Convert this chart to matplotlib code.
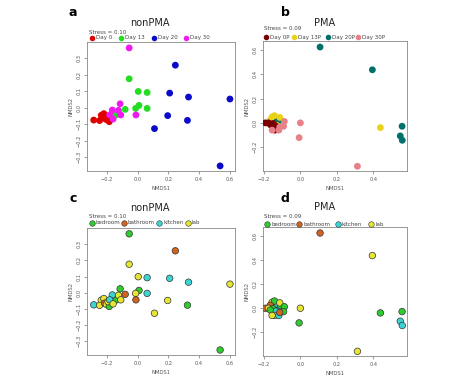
import matplotlib
matplotlib.use("Agg")
import matplotlib.pyplot as plt
from matplotlib.lines import Line2D

# ---------------- data ----------------
# nonPMA samples
np_x = [-0.286, -0.237, -0.220, -0.248, -0.215, -0.204, -0.185, -0.171, -0.193,
        -0.055, 0.004, 0.062, 0.009, -0.013, -0.081, 0.062, -0.143,
        -0.055, -0.114, -0.165, -0.125, -0.110, -0.182, -0.160, -0.011,
        0.246, 0.209, 0.332, 0.602, 0.196, 0.325, 0.110, 0.538]
np_y = [-0.075, -0.046, -0.036, -0.078, -0.065, -0.072, -0.085, -0.044, -0.055,
        0.176, 0.099, 0.093, 0.014, -0.004, -0.010, -0.004, -0.046,
        0.364, 0.024, -0.014, -0.016, -0.044, -0.044, -0.069, -0.044,
        0.259, 0.089, 0.065, 0.053, -0.048, -0.077, -0.127, -0.354]
np_day = ["Day 0"] * 9 + ["Day 13"] * 8 + ["Day 30"] * 8 + ["Day 20"] * 8
np_room = ["kitchen", "lab", "lab", "lab", "bathroom", "lab", "bedroom", "lab", "lab",
           "lab", "lab", "kitchen", "bedroom", "lab", "bathroom", "kitchen", "bedroom",
           "bedroom", "bedroom", "kitchen", "lab", "lab", "kitchen", "lab", "bathroom",
           "bathroom", "kitchen", "kitchen", "lab", "lab", "bedroom", "lab", "bedroom"]

# PMA samples
p_x = [0.108, 0.395, 0.558, 0.548, 0.559, -0.128, -0.110,
       0.439, -0.155, -0.142, -0.113, -0.165, -0.150, -0.130,
       -0.192, -0.175, -0.150, -0.135, -0.140, -0.165,
       0.000, -0.007, 0.313, -0.088, -0.092, -0.155, -0.118, -0.113]
p_y = [0.627, 0.439, -0.028, -0.108, -0.144, 0.022, 0.022,
       -0.039, 0.050, 0.060, 0.045, 0.025, -0.010, -0.020,
       0.000, 0.000, -0.005, -0.025, -0.060, -0.015,
       0.000, -0.122, -0.359, 0.012, -0.028, -0.060, -0.060, -0.035]
p_day = ["Day 20P"] * 7 + ["Day 13P"] * 7 + ["Day 0P"] * 6 + ["Day 30P"] * 8
p_room = ["bathroom", "lab", "bedroom", "kitchen", "kitchen", "kitchen", "bedroom",
          "bedroom", "lab", "bedroom", "lab", "bathroom", "lab", "kitchen",
          "bathroom", "lab", "bedroom", "kitchen", "lab", "bedroom",
          "lab", "bedroom", "lab", "bedroom", "bedroom", "lab", "kitchen", "bathroom"]

days_np = ["Day 0", "Day 13", "Day 20", "Day 30"]
days_p = ["Day 0P", "Day 13P", "Day 20P", "Day 30P"]
rooms = ["bedroom", "bathroom", "kitchen", "lab"]

stress_np = "Stress = 0.10"
stress_p = "Stress = 0.09"

np_xticks = [-0.2, 0.0, 0.2, 0.4, 0.6]
np_yticks = [-0.3, -0.2, -0.1, 0.0, 0.1, 0.2, 0.3]
p_xticks = [-0.2, 0.0, 0.2, 0.4]
p_yticks = [-0.2, 0.0, 0.2, 0.4, 0.6]

# ---------------- styles ----------------
day_col = {"Day 0": "#e00000", "Day 13": "#22dd22", "Day 20": "#0a0ac8", "Day 30": "#ee1aee",
           "Day 0P": "#7a0000", "Day 13P": "#ead21a", "Day 20P": "#00706a", "Day 30P": "#e88088"}
room_col = {"bedroom": "#2ecc2e", "bathroom": "#d0641e", "kitchen": "#3ad6d6", "lab": "#e6e632"}

W, H = 474, 376
fig = plt.figure(figsize=(W / 100, H / 100), dpi=100)
fig.patch.set_facecolor("white")


def ax_at(l, r, t, b):
    return fig.add_axes([l / W, 1 - b / H, (r - l) / W, (b - t) / H])


def fmt(v):
    return ("%.1f" % v).replace("-", "\u2212")


def style(ax, xt, yt, xlim, ylim):
    ax.set_xlim(*xlim)
    ax.set_ylim(*ylim)
    ax.set_xticks(xt)
    ax.set_xticklabels([fmt(v) for v in xt], fontsize=3.6, color="#555555")
    ax.set_yticks(yt)
    ax.set_yticklabels([fmt(v) for v in yt], fontsize=3.6, color="#555555",
                       rotation=90, va="center")
    ax.tick_params(length=2, width=0.5, color="#777777", pad=2)
    for s in ax.spines.values():
        s.set_color("#888888")
        s.set_linewidth(0.6)


def legend_row(xs, y, labels, colors, edge):
    for x, lab in zip(xs, labels):
        fig.lines.append(Line2D([x / W], [1 - y / H], transform=fig.transFigure,
                                marker="o", markersize=4.0, markerfacecolor=colors[lab],
                                markeredgecolor="#333333" if edge else colors[lab],
                                markeredgewidth=0.4 if edge else 0,
                                linestyle="none"))
        fig.text((x + 4) / W, 1 - y / H, lab, fontsize=4, color="#444444",
                 ha="left", va="center")


np_xlim = (-0.33, 0.635)
np_ylim = (-0.385, 0.40)
p_xlim = (-0.205, 0.585)
p_ylim = (-0.398, 0.677)

panels = [
    (87, 235, 42, 171, np_x, np_y, np_day, day_col, np_xticks, np_yticks, np_xlim, np_ylim, False),
    (263, 407, 41, 171, p_x, p_y, p_day, day_col, p_xticks, p_yticks, p_xlim, p_ylim, False),
    (87, 235, 228, 355, np_x, np_y, np_room, room_col, np_xticks, np_yticks, np_xlim, np_ylim, True),
    (263, 407, 227, 356, p_x, p_y, p_room, room_col, p_xticks, p_yticks, p_xlim, p_ylim, True),
]

for (l, r, t, b, xs, ys, grp, cols, xt, yt, xl, yl, edge) in panels:
    ax = ax_at(l, r, t, b)
    c = [cols[g] for g in grp]
    if edge:
        ax.scatter(xs, ys, s=22, c=c, edgecolors="#333333", linewidths=0.5, zorder=3)
    else:
        ax.scatter(xs, ys, s=24, c=c, edgecolors="none", zorder=3)
    style(ax, xt, yt, xl, yl)
    ax.set_xlabel("NMDS1", fontsize=3.8, color="#555555", labelpad=3)
    ax.set_ylabel("NMDS2", fontsize=3.8, color="#555555", labelpad=2)

# titles
fig.text(150 / W, 1 - 23 / H, "nonPMA", fontsize=7, ha="center", va="center", color="#222222")
fig.text(325 / W, 1 - 23 / H, "PMA", fontsize=7, ha="center", va="center", color="#222222")
fig.text(150 / W, 1 - 208 / H, "nonPMA", fontsize=7, ha="center", va="center", color="#222222")
fig.text(325 / W, 1 - 207 / H, "PMA", fontsize=7, ha="center", va="center", color="#222222")

# panel letters
for lab, x, y in [("a", 73, 13), ("b", 285, 13), ("c", 73, 199), ("d", 285, 199)]:
    fig.text(x / W, 1 - y / H, lab, fontsize=9, fontweight="bold", ha="center", va="center")

# stress texts
fig.text(89 / W, 1 - 32 / H, stress_np, fontsize=4, color="#444444", va="center")
fig.text(264 / W, 1 - 29 / H, stress_p, fontsize=4, color="#444444", va="center")
fig.text(89 / W, 1 - 217 / H, stress_np, fontsize=4, color="#444444", va="center")
fig.text(264 / W, 1 - 217 / H, stress_p, fontsize=4, color="#444444", va="center")

# legends
legend_row([92, 121, 154, 186], 38, days_np, day_col, False)
legend_row([266, 294, 328, 358], 37, days_p, day_col, False)
legend_row([92, 124, 159, 188], 223, rooms, room_col, True)
legend_row([267, 299, 338, 371], 224, rooms, room_col, True)

fig.savefig("out.png", dpi=100, facecolor="white")
